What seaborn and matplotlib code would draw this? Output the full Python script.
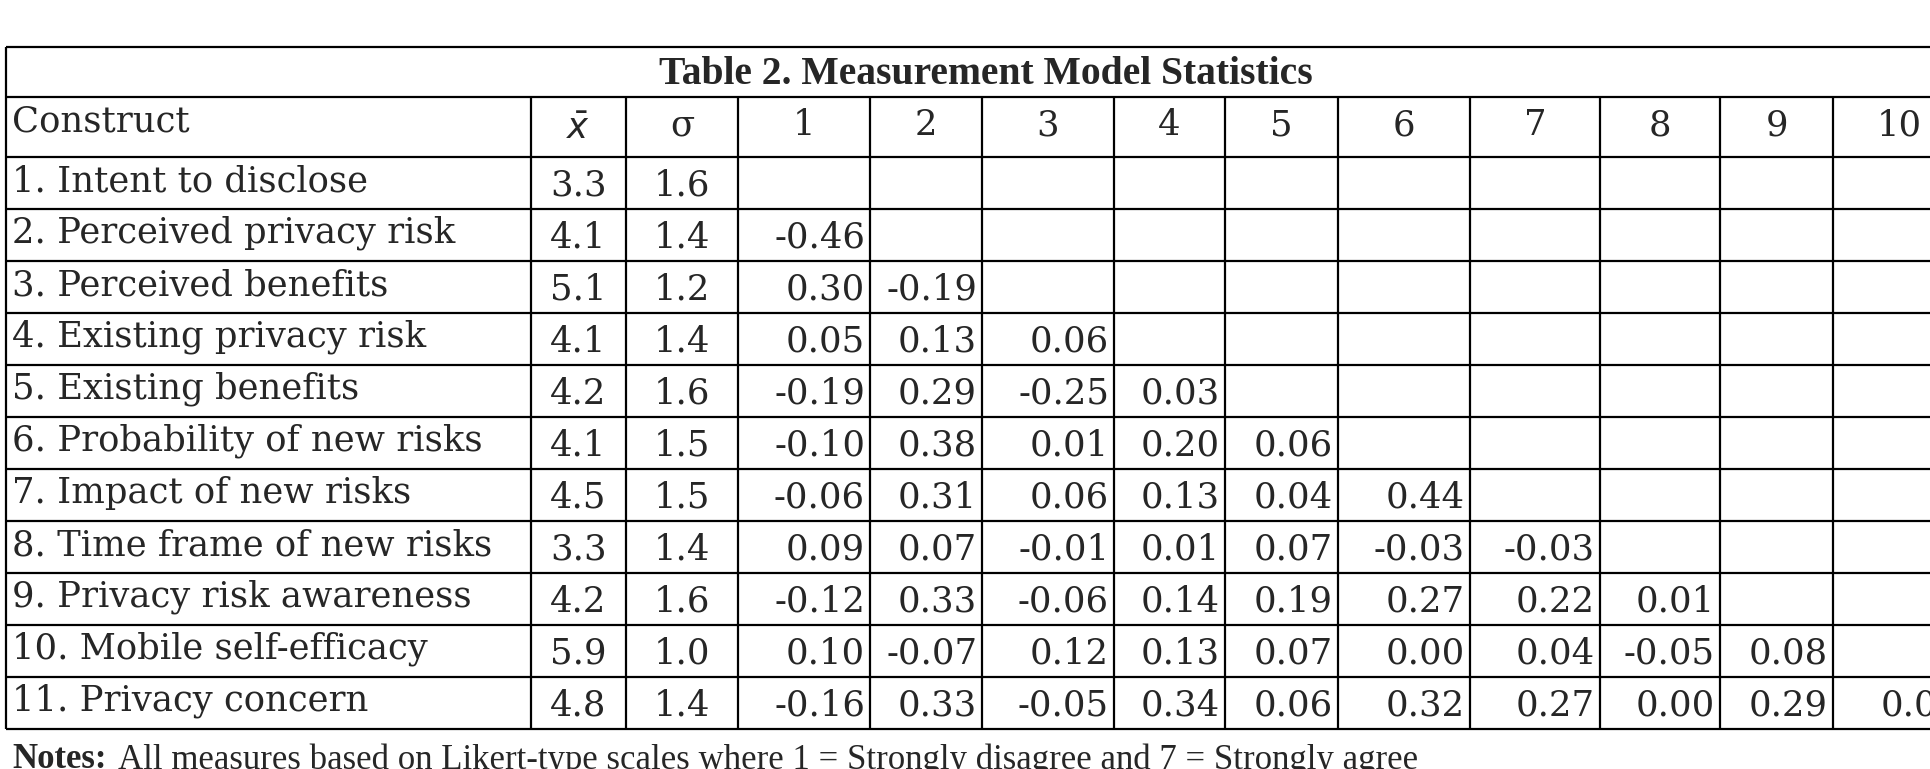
import matplotlib
matplotlib.use("Agg")
import matplotlib.pyplot as plt
import seaborn as sns

sns.set_theme(style="white")
plt.rcParams['font.family'] = ['DejaVu Serif']

title = "Table 2. Measurement Model Statistics"
constructs = ["1. Intent to disclose", "2. Perceived privacy risk", "3. Perceived benefits",
              "4. Existing privacy risk", "5. Existing benefits", "6. Probability of new risks",
              "7. Impact of new risks", "8. Time frame of new risks", "9. Privacy risk awareness",
              "10. Mobile self-efficacy", "11. Privacy concern"]
means = ["3.3", "4.1", "5.1", "4.1", "4.2", "4.1", "4.5", "3.3", "4.2", "5.9", "4.8"]
sds = ["1.6", "1.4", "1.2", "1.4", "1.6", "1.5", "1.5", "1.4", "1.6", "1.0", "1.4"]
col_labels = ["1", "2", "3", "4", "5", "6", "7", "8", "9", "10"]
corr = [
    [],
    ["-0.46"],
    ["0.30", "-0.19"],
    ["0.05", "0.13", "0.06"],
    ["-0.19", "0.29", "-0.25", "0.03"],
    ["-0.10", "0.38", "0.01", "0.20", "0.06"],
    ["-0.06", "0.31", "0.06", "0.13", "0.04", "0.44"],
    ["0.09", "0.07", "-0.01", "0.01", "0.07", "-0.03", "-0.03"],
    ["-0.12", "0.33", "-0.06", "0.14", "0.19", "0.27", "0.22", "0.01"],
    ["0.10", "-0.07", "0.12", "0.13", "0.07", "0.00", "0.04", "-0.05", "0.08"],
    ["-0.16", "0.33", "-0.05", "0.34", "0.06", "0.32", "0.27", "0.00", "0.29", "0.01"],
]
notes = "All measures based on Likert-type scales where 1 = Strongly disagree and 7 = Strongly agree"

fig = plt.figure(figsize=(19.30, 7.69), dpi=100)
ax = fig.add_axes([0, 0, 1, 1])
ax.set_xlim(0, 1930)
ax.set_ylim(769, 0)
ax.axis("off")

xs = [6, 531, 626, 738, 870, 982, 1114, 1225, 1338, 1470, 1600, 1720, 1833, 1965]
top, head_top, row0, rh = 47, 97, 157, 52
nrows = len(constructs)
bottom = row0 + nrows * rh
lw = 1.6
ax.hlines([top], xs[0], 1930, color="black", lw=lw)
ax.hlines([head_top] + [row0 + i * rh for i in range(nrows + 1)], xs[0], 1930, color="black", lw=lw)
ax.vlines([xs[0]], top, bottom, color="black", lw=lw)
ax.vlines(xs[1:-1], head_top, bottom, color="black", lw=lw)

fs = 25.5
ax.text((xs[0] + xs[-1]) / 2, 74, title, ha="center", va="center", fontsize=28.5,
        fontweight="bold", family="Liberation Serif")
hy = (head_top + row0) / 2
ax.text(xs[0] + 6, hy - 5, "Construct", ha="left", va="center", fontsize=fs)
ax.text((xs[1] + xs[2]) / 2, hy + 2, r"$\bar{x}$", ha="center", va="center", fontsize=fs)
ax.text((xs[2] + xs[3]) / 2, hy - 2, "σ", ha="center", va="center", fontsize=fs)
for j, lab in enumerate(col_labels):
    ax.text((xs[3 + j] + xs[4 + j]) / 2, hy - 2, lab, ha="center", va="center", fontsize=fs)

for i in range(nrows):
    y = row0 + i * rh + rh / 2
    ax.text(xs[0] + 6, y - 2, constructs[i], ha="left", va="center", fontsize=fs)
    ax.text((xs[1] + xs[2]) / 2, y + 3, means[i], ha="center", va="center", fontsize=fs)
    ax.text((xs[2] + xs[3]) / 2, y + 3, sds[i], ha="center", va="center", fontsize=fs)
    for j, v in enumerate(corr[i]):
        ax.text(xs[4 + j] - 5, y + 3, v, ha="right", va="center", fontsize=fs)

ax.text(xs[0] + 6, 760, "Notes:", ha="left", va="center", fontsize=25, fontweight="bold",
        family="Liberation Serif")
ax.text(xs[0] + 112, 760, notes, ha="left", va="center", fontsize=25, family="Liberation Serif")

fig.savefig("out.png", dpi=100, facecolor="white")
